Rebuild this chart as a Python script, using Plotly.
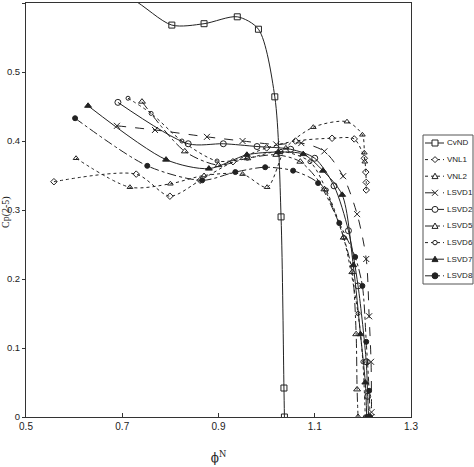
import plotly.graph_objects as go

# ---- data ----
cvnd_x = [0.60, 0.72, 0.803, 0.870, 0.939, 0.983, 1.017, 1.030, 1.036, 1.037]
cvnd_y = [0.640, 0.606, 0.568, 0.570, 0.580, 0.562, 0.464, 0.290, 0.042, 0.0]

vnl1_x = [0.558, 0.729, 0.799, 0.862, 0.930, 1.000, 1.060, 1.136, 1.182, 1.203, 1.206, 1.207, 1.207]
vnl1_y = [0.341, 0.352, 0.320, 0.343, 0.370, 0.390, 0.400, 0.404, 0.403, 0.375, 0.355, 0.340, 0.329]

vnl2_x = [0.604, 0.716, 0.800, 0.870, 0.950, 1.001, 1.040, 1.097, 1.167, 1.199, 1.203, 1.204]
vnl2_y = [0.375, 0.333, 0.338, 0.350, 0.352, 0.333, 0.390, 0.420, 0.428, 0.409, 0.383, 0.370]

lsvd1_x = [0.689, 0.768, 0.876, 0.950, 1.020, 1.072, 1.120, 1.159, 1.188, 1.207, 1.213, 1.217, 1.218, 1.218]
lsvd1_y = [0.422, 0.416, 0.406, 0.400, 0.395, 0.397, 0.385, 0.349, 0.294, 0.229, 0.146, 0.080, 0.007, 0.0]

lsvd2_x = [0.691, 0.837, 0.910, 0.980, 1.050, 1.100, 1.140, 1.170, 1.190, 1.207, 1.210, 1.212]
lsvd2_y = [0.456, 0.396, 0.396, 0.392, 0.388, 0.375, 0.335, 0.270, 0.190, 0.080, 0.030, 0.0]

lsvd5_x = [0.741, 0.830, 0.900, 0.960, 1.020, 1.070, 1.120, 1.160, 1.178, 1.186, 1.188, 1.190]
lsvd5_y = [0.457, 0.385, 0.365, 0.375, 0.380, 0.370, 0.330, 0.260, 0.210, 0.120, 0.040, 0.0]

lsvd6_x = [0.712, 0.760, 0.824, 0.897, 0.960, 1.030, 1.090, 1.124, 1.160, 1.190, 1.200, 1.205]
lsvd6_y = [0.462, 0.440, 0.400, 0.371, 0.375, 0.385, 0.370, 0.329, 0.260, 0.150, 0.080, 0.0]

lsvd7_x = [0.629, 0.791, 0.880, 0.959, 1.024, 1.076, 1.117, 1.157, 1.180, 1.195, 1.205, 1.208]
lsvd7_y = [0.451, 0.373, 0.360, 0.380, 0.384, 0.381, 0.357, 0.322, 0.220, 0.120, 0.050, 0.0]

lsvd8_x = [0.602, 0.752, 0.866, 0.935, 0.997, 1.055, 1.107, 1.151, 1.184, 1.199, 1.207, 1.213, 1.215]
lsvd8_y = [0.433, 0.364, 0.343, 0.355, 0.362, 0.357, 0.339, 0.281, 0.232, 0.190, 0.109, 0.038, 0.0]

names = ["CvND", "VNL1", "VNL2", "LSVD1", "LSVD2", "LSVD5", "LSVD6", "LSVD7", "LSVD8"]
xs = [cvnd_x, vnl1_x, vnl2_x, lsvd1_x, lsvd2_x, lsvd5_x, lsvd6_x, lsvd7_x, lsvd8_x]
ys = [cvnd_y, vnl1_y, vnl2_y, lsvd1_y, lsvd2_y, lsvd5_y, lsvd6_y, lsvd7_y, lsvd8_y]

x_ticks = [0.5, 0.7, 0.9, 1.1, 1.3]
y_ticks = [0, 0.1, 0.2, 0.3, 0.4, 0.5, 0.6]

# ---- styles ----
INK = "#222222"
dashes = ["solid", "dot", "dot", "dash", "solid", "dashdot", "dot", "solid", "dashdot"]
symbols = ["square-open", "diamond-open", "triangle-up-open", "x-thin-open", "circle-open",
           "triangle-up-open", "circle-open", "triangle-up", "circle"]
sizes = [6, 5, 5, 6, 6, 6, 4, 6, 5]

W, H = 474, 467
PL, PR, PT, PB = 26, 411, 3, 417


def px2x(px):
    return (px - PL) / (PR - PL)


def py2y(py):
    return (PB - py) / (PB - PT)


fig = go.Figure()
for n, x, y, d, s, sz in zip(names, xs, ys, dashes, symbols, sizes):
    fig.add_trace(go.Scatter(
        x=x, y=y, name=n, mode="lines+markers", showlegend=False,
        line=dict(color=INK, width=1, dash=d, shape="spline", smoothing=0.8),
        marker=dict(symbol=s, size=sz, color=INK, line=dict(color=INK, width=1)),
    ))

# ---- hand-drawn legend box (layout decoration, right margin) ----
shapes = []
annotations = []
shapes.append(dict(type="rect", xref="paper", yref="paper",
                   x0=px2x(423), x1=px2x(473), y0=py2y(284), y1=py2y(135),
                   line=dict(color="#555555", width=1), fillcolor="white", layer="above"))
row0, gap = 143, 16.6
for i, n in enumerate(names):
    cy = row0 + i * gap
    shapes.append(dict(type="line", xref="paper", yref="paper",
                       x0=px2x(425), x1=px2x(444), y0=py2y(cy), y1=py2y(cy),
                       line=dict(color=INK, width=1, dash=dashes[i]), layer="above"))
    cx = 435
    r = 3.0 if i != 6 else 2.2
    sym = symbols[i]
    filled = sym in ("triangle-up", "circle")
    fill = INK if filled else "white"
    lw = dict(color=INK, width=1)
    if sym == "square-open":
        shapes.append(dict(type="rect", xref="paper", yref="paper",
                           x0=px2x(cx - r), x1=px2x(cx + r), y0=py2y(cy + r), y1=py2y(cy - r),
                           line=lw, fillcolor=fill, layer="above"))
    elif sym.startswith("circle"):
        shapes.append(dict(type="circle", xref="paper", yref="paper",
                           x0=px2x(cx - r), x1=px2x(cx + r), y0=py2y(cy + r), y1=py2y(cy - r),
                           line=lw, fillcolor=fill, layer="above"))
    elif sym == "diamond-open":
        p = "M {} {} L {} {} L {} {} L {} {} Z".format(
            px2x(cx), py2y(cy - r), px2x(cx + r), py2y(cy), px2x(cx), py2y(cy + r), px2x(cx - r), py2y(cy))
        shapes.append(dict(type="path", xref="paper", yref="paper", path=p,
                           line=lw, fillcolor=fill, layer="above"))
    elif sym.startswith("triangle"):
        p = "M {} {} L {} {} L {} {} Z".format(
            px2x(cx), py2y(cy - r), px2x(cx + r), py2y(cy + r * 0.8), px2x(cx - r), py2y(cy + r * 0.8))
        shapes.append(dict(type="path", xref="paper", yref="paper", path=p,
                           line=lw, fillcolor=fill, layer="above"))
    elif sym.startswith("x"):
        for a, b in ((-1, 1), (1, -1)):
            shapes.append(dict(type="line", xref="paper", yref="paper",
                               x0=px2x(cx - r), x1=px2x(cx + r), y0=py2y(cy + a * r), y1=py2y(cy + b * r),
                               line=lw, layer="above"))
    annotations.append(dict(xref="paper", yref="paper", x=px2x(445), y=py2y(cy),
                            xanchor="left", yanchor="middle", showarrow=False, text=n,
                            font=dict(size=8, color=INK,
                                      family="Liberation Sans, Arial, sans-serif")))

# y-axis title
annotations.append(dict(xref="paper", yref="paper", x=px2x(6), y=py2y(212),
                        xanchor="center", yanchor="middle", showarrow=False,
                        text="Cp(2-5)", textangle=-90,
                        font=dict(size=10, color=INK, family="Liberation Serif, serif")))

fig.update_layout(
    width=W, height=H,
    margin=dict(l=PL, r=W - PR, t=PT, b=H - PB),
    paper_bgcolor="white", plot_bgcolor="white",
    font=dict(family="Liberation Sans, Arial, sans-serif", size=10, color=INK),
    showlegend=False,
    shapes=shapes, annotations=annotations,
)
fig.update_xaxes(range=[0.5, 1.3], tickvals=x_ticks, ticktext=[str(v) for v in x_ticks],
                 showgrid=False, zeroline=False, showline=True, linecolor="#333333",
                 linewidth=1, mirror=True, ticks="inside", ticklen=4, tickcolor="#333333",
                 title=dict(text="ϕ<sup>N</sup>", font=dict(size=12, family="DejaVu Serif, serif"),
                            standoff=22))
fig.update_yaxes(range=[0, 0.6], tickvals=y_ticks,
                 ticktext=["0", "0.1", "0.2", "0.3", "0.4", "0.5", "0.6"],
                 showgrid=False, zeroline=False, showline=True, linecolor="#333333",
                 linewidth=1, mirror=True, ticks="outside", ticklen=3, tickcolor="#333333",
                 tickfont=dict(size=9.5))

fig.write_html("out.html", config={"displayModeBar": False},
               post_script="document.body.style.margin='0';")
